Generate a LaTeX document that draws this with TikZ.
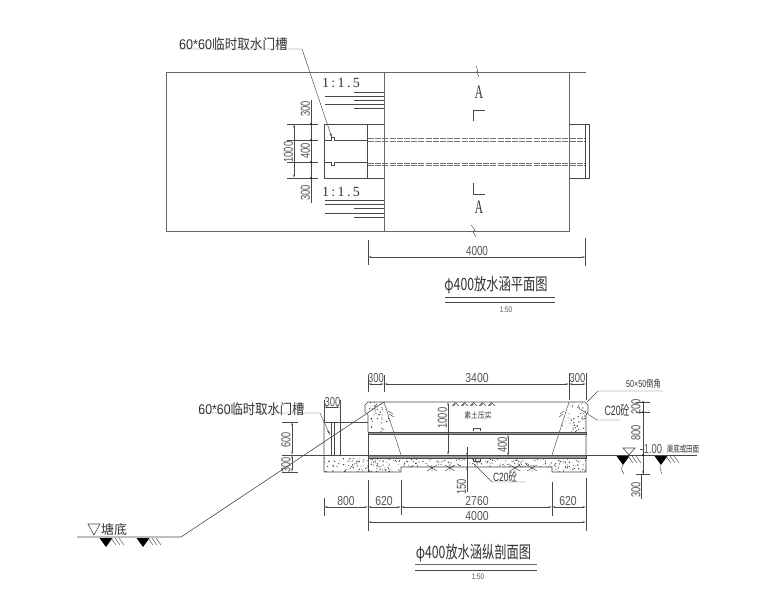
\documentclass[tikz,border=0pt]{standalone}
\usepackage{fontspec}
\usepackage{graphicx}
\setmainfont{Liberation Sans}
\newfontfamily\cjk{Noto Sans CJK SC}
\newfontfamily\serifnum{Liberation Serif}
\usetikzlibrary{arrows.meta,calc}
\definecolor{ink}{HTML}{484848}
\definecolor{dimtxt}{HTML}{555555}
\tikzset{
  ln/.style={draw=ink,line width=0.6pt},
  thin ln/.style={draw=ink,line width=0.45pt},
  heavy/.style={draw=black!60,line width=0.85pt},
  dashln/.style={draw=black!55,line width=0.55pt,dash pattern=on 6pt off 1.2pt},
  dimln/.style={draw=ink,line width=0.5pt,{Stealth[length=3.5pt,width=1.5pt]}-{Stealth[length=3.5pt,width=1.5pt]}},
  tag/.style={inner sep=0pt,outer sep=0pt,text=dimtxt,font=\fontsize{13}{13}\selectfont},
  lab/.style={inner sep=0pt,outer sep=0pt,text=black!80,font=\fontsize{11}{11}\selectfont},
  vtag/.style={tag,rotate=90},
  bandln/.style={draw=black!70,line width=0.6pt,fill=black!40},
  blk/.style={fill=black,draw=none},
}
\newcommand{\sx}[2]{\scalebox{#1}[1]{#2}}
\newcommand{\speck}[5]{% x y w h n
  \foreach \i in {1,...,#5}{
    \pgfmathsetmacro{\px}{#1+rnd*#3}
    \pgfmathsetmacro{\py}{#2+rnd*#4}
    \pgfmathsetmacro{\pr}{0.3+rnd*0.45}
    \fill[black!75] (\px,\py) circle[radius=\pr];
  }}
\newcommand{\hatchmark}[2]{% base x,y of black triangle with ground hatch
  \fill[blk] (#1-6.5,#2) -- (#1+6.5,#2) -- (#1,#2+9) -- cycle;
  \draw[thin ln] (#1+5,#2) -- (#1+10,#2+7) (#1+9,#2) -- (#1+14,#2+7) (#1+13,#2) -- (#1+18,#2+7);
}
\begin{document}
\begin{tikzpicture}[x=1pt,y=-1pt]
\useasboundingbox (0,0) rectangle (760,608);
\fill[white] (0,0) rectangle (760,608);
\pgfmathsetseed{4217}

%% ---------- PLAN ----------
\draw[heavy] (586,72) -- (166,72) -- (166,231) -- (569,231) -- (569,72);
\draw[heavy] (384,72) -- (384,231);
% slope hatching
\foreach \y/\x in {92/354,96/325,100/354,104/325,108/354,200/325,204/325,208/354,213/325,217/354}
  \draw[thin ln] (\x,\y) -- (384,\y);
% inlet
\draw[ln] (384,124) -- (324,124) -- (324,178) -- (384,178);
\draw[ln] (367.5,124) -- (367.5,178);
\draw[ln] (324,140) -- (331,140) -- (331,137) -- (334,137) -- (334,140) -- (367.5,140);
\draw[ln] (324,162) -- (331,162) -- (331,165) -- (334,165) -- (334,162) -- (367.5,162);
% pipe
\foreach \y in {138,141,163,165.5}
  \draw[dashln] (368,\y) -- (586,\y);
% outlet
\draw[ln] (569,124) -- (589,124) -- (589,178) -- (569,178);
\draw[ln] (585,124) -- (585,178);
% dims left
\foreach \y in {124,140,162,178} \draw[thin ln] (287,\y) -- (318,\y);
\draw[thin ln] (311,100) -- (311,203);
\foreach \y in {124,140,162,178} \fill[black] (311,\y) circle[radius=0.9];
\draw[dimln] (294,124) -- (294,178);
\node[vtag] (p300a) at (305.5,109) {\sx{.72}{300}};
\node[vtag] (p400) at (305.5,151) {\sx{.72}{400}};
\node[vtag] (p1000) at (288.5,152) {\sx{.72}{1000}};
\node[vtag] (p300b) at (305.5,193) {\sx{.72}{300}};
% slopes
\node[lab] (pslope1) at (341,83) {\serifnum\fontsize{14}{14}\selectfont 1\,:\,1\,.\,5};
\node[lab] (pslope2) at (341,192) {\serifnum\fontsize{14}{14}\selectfont 1\,:\,1\,.\,5};
% leader
\node[lab] (pgate) at (233.5,44.5) {\fontsize{14}{14}\selectfont\sx{.9}{60*60\cjk 临时取水门槽}};
\coordinate (pgA) at (179,49);
\coordinate (pgB) at (302,49);
\coordinate (pgC) at (332,138);
\draw[thin ln,-{Stealth[length=5pt,width=2pt]}] (pgA) -- (pgB) -- (pgC);
% section marks
\node[lab] (pA1) at (479,92) {\serifnum\fontsize{19}{19}\selectfont\sx{.6}{A}};
\node[lab] (pA2) at (479,207) {\serifnum\fontsize{19}{19}\selectfont\sx{.6}{A}};
\draw[ln] (473,121) -- (473,110) -- (485,110);
\draw[ln] (473,183) -- (473,194) -- (485,194);
\draw[thin ln] (476,66) -- (478,71) -- (476.5,72) -- (479,77);
\draw[thin ln] (471,225) -- (475,230) -- (473,232) -- (476,237);
% 4000
\draw[thin ln] (368,240) -- (368,265);
\draw[thin ln] (585.5,238) -- (585.5,266);
\draw[dimln] (368,257) -- (585.5,257);
\node[tag] (p4000) at (477,251.5) {\sx{.76}{4000}};
% title
\node[lab] (ptitle) at (496,285.5) {\fontsize{17}{17}\selectfont\sx{.72}{\cjk φ400放水涵平面图}};
\draw[ln] (445,297) -- (555,297);
\draw[thin ln] (445,302) -- (555,302);
\node[tag] (pscale) at (506,309.5) {\fontsize{8}{8}\selectfont\sx{.8}{1:50}};

%% ---------- SECTION ----------
% concrete blocks
\begin{scope}
\clip (365,405) -- (368,402) -- (384,402) -- (393,432) -- (368,432) -- (368,415) -- (365,412) -- cycle;
\speck{365}{402}{28}{30}{60}
\end{scope}
\begin{scope}
\clip (588,405) -- (585,402) -- (569,402) -- (560,432) -- (586,432) -- (586,415) -- (588,412) -- cycle;
\speck{560}{402}{28}{30}{60}
\end{scope}
\begin{scope}
\clip (324,458) -- (586,458) -- (586,472) -- (552,472) -- (552,467) -- (401,467) -- (401,472) -- (324,472) -- cycle;
\speck{324}{458}{262}{14}{420}
\end{scope}
% outlines
\draw[ln] (368,432) -- (368,415) -- (365,412) -- (365,405) -- (368,402) -- (585,402) -- (588,405) -- (588,412) -- (586,415) -- (586,472) -- (552,472) -- (552,467) -- (401,467) -- (401,472) -- (324,472) -- (324,422);
\draw[ln] (368,432) -- (368,472);
\draw[thin ln] (384,402) -- (401,455);
\draw[thin ln] (569,402) -- (552,455);
\draw[thin ln] (388,411) -- (393,414) (389,414) -- (394,417);
\draw[thin ln] (564,411) -- (560,414) (563,414) -- (559,417);
% bands
\draw[bandln] (368,432) rectangle (586,434.5);
\draw[bandln] (368,455.5) rectangle (586,458);
% main ground line
\draw[ln] (324,455.5) -- (697,455.5);
% gate
\draw[ln] (324,422) -- (368,422);
\draw[ln] (331,422) -- (331,456) (334,422) -- (334,456) (340,422) -- (340,456);
% slope
\coordinate (gndL) at (77,537);
\coordinate (gndK) at (181,537);
\coordinate (slopeT) at (384,402);
\draw[ln] (gndL) -- (gndK) -- (slopeT);
% soil marks
\foreach \x in {452,461,470,479,488}
  \draw[ln] (\x,406) -- (\x+3.5,402.5) -- (\x+7,406) (\x+1.5,406) -- (\x+3.5,404);
\node[lab] (ssoil) at (478,415) {\fontsize{8}{8}\selectfont\sx{.85}{\cjk 素土压实}};
% small pipe marks
\draw[thin ln] (473,431) -- (473,428) -- (480,428) -- (480,431);
\draw[thin ln] (473,459) -- (473,461) -- (480,461) -- (480,459);
\foreach \x in {432,450,515,532}{
  \draw[thin ln] (\x-5,465) -- (\x+5,471) (\x+5,465) -- (\x-5,471) (\x,467) -- (\x,472);
}
% top dims
\foreach \x/\a/\b in {368/375/392,384/375/392,569/373/400,586/373/400}
  \draw[thin ln] (\x,\a) -- (\x,\b);
\draw[dimln] (368,384) -- (384,384);
\draw[dimln] (384,384) -- (569,384);
\draw[dimln] (569,384) -- (586,384);
\node[tag] (s300a) at (376,378.5) {\sx{.72}{300}};
\node[tag] (s3400) at (477,378.5) {\sx{.8}{3400}};
\node[tag] (s300b) at (577.5,378) {\sx{.72}{300}};
% gate dim
\draw[thin ln] (324,400) -- (324,422) (340,400) -- (340,422);
\draw[dimln] (324,407) -- (340,407);
\node[tag] (s300c) at (332.5,402.5) {\sx{.72}{300}};
% inner vertical dims
\draw[dimln] (448,402) -- (448,455);
\node[vtag] (s1000) at (442.5,418) {\sx{.72}{1000}};
\draw[dimln] (508,434.5) -- (508,456);
\node[vtag] (s400) at (502.5,445) {\sx{.72}{400}};
\draw[thin ln] (467,447) -- (467,492);
\draw[-{Stealth[length=3.5pt,width=1.5pt]},thin ln] (467,447) -- (467,456);
\draw[-{Stealth[length=3.5pt,width=1.5pt]},thin ln] (467,480) -- (467,467);
\node[vtag] (s150) at (461.5,487) {\sx{.72}{150}};
% left dims
\foreach \y in {422,455,472} \draw[thin ln] (282,\y) -- (298,\y);
\draw[dimln] (292,422) -- (292,455);
\draw[dimln] (292,455) -- (292,472);
\node[vtag] (s600) at (286,440) {\sx{.7}{600}};
\node[vtag] (s300d) at (286,465) {\sx{.7}{300}};
\draw[thin ln] (298,455.5) -- (324,455.5);
% bottom dims
\draw[thin ln] (324,498) -- (324,516);
\draw[thin ln] (368,480) -- (368,531);
\draw[thin ln] (401,480) -- (401,515);
\draw[thin ln] (552,482) -- (552,516);
\draw[thin ln] (586,478) -- (586,531);
\draw[dimln] (324,507) -- (368,507);
\draw[dimln] (368,507) -- (401,507);
\draw[dimln] (401,507) -- (552,507);
\draw[dimln] (552,507) -- (586,507);
\draw[dimln] (368,522) -- (586,522);
\node[tag] (s800) at (346,501.5) {\sx{.8}{800}};
\node[tag] (s620a) at (384,501.5) {\sx{.8}{620}};
\node[tag] (s2760) at (477,501.5) {\sx{.8}{2760}};
\node[tag] (s620b) at (568,501.5) {\sx{.8}{620}};
\node[tag] (s4000) at (477,516.5) {\sx{.8}{4000}};
% section gate leader
\node[lab] (sgate) at (251.5,409) {\fontsize{14}{14}\selectfont\sx{.88}{60*60\cjk 临时取水门槽}};
\coordinate (sgA) at (198,413);
\coordinate (sgB) at (320,413);
\coordinate (sgC) at (330,435);
\draw[thin ln,-{Stealth[length=5pt,width=2pt]}] (sgA) -- (sgB) -- (sgC);
% C20 mid
\node[lab] (sc20a) at (505,477) {\fontsize{12}{12}\selectfont\sx{.7}{C20\cjk 砼}};
\coordinate (caA) at (475,465);
\coordinate (caB) at (492,482);
\coordinate (caC) at (526,482);
\draw[thin ln] (caA) -- (caB) -- (caC);
% chamfer note
\node[lab] (schamfer) at (643.5,384) {\fontsize{10}{10}\selectfont\sx{.72}{50×50\cjk 倒角}};
\coordinate (chA) at (663,391);
\coordinate (chB) at (598,391);
\coordinate (chC) at (587,402);
\draw[thin ln] (chA) -- (chB) -- (chC);
\node[lab] (sc20b) at (617,410) {\fontsize{13.5}{13.5}\selectfont\sx{.65}{C20\cjk 砼}};
\coordinate (cbA) at (620,420);
\coordinate (cbB) at (597,420);
\coordinate (cbC) at (577,407);
\draw[thin ln] (cbA) -- (cbB) -- (cbC);
% right vertical dims
\foreach \y in {402,412,474} \draw[thin ln] (636,\y) -- (650,\y);
\draw[thin ln] (643,402) -- (643,474);
\draw[thin ln] (641,474) -- (641,499);
\foreach \y in {402,412,455} \fill[black] (643,\y) circle[radius=0.9];
\draw[-{Stealth[length=3.5pt,width=1.5pt]},thin ln] (643,462) -- (643,474);
\node[vtag] (s200) at (636,407) {\sx{.72}{200}};
\node[vtag] (s800v) at (636,433) {\sx{.72}{800}};
\node[vtag] (s300e) at (636,490) {\sx{.72}{300}};
% elevation
\draw[ln] (623,448) -- (635,448) -- (629,455) -- cycle;
\node[tag] (selev) at (653,449) {\sx{.72}{1.00}};
\draw[thin ln] (640,449) -- (644,449);
\node[lab] (sground) at (683,449) {\fontsize{9}{9}\selectfont\sx{.72}{\cjk 渠底或田面}};
\hatchmark{623}{456}
\hatchmark{661}{456}
\draw[thin ln] (623,465) .. controls (621,469) .. (624,474);
\draw[thin ln] (660,465) .. controls (660,469) .. (662,474);
% pond bottom
\draw[ln] (88,524) -- (100,524) -- (94,535) -- cycle;
\node[lab] (spond) at (114,529.5) {\fontsize{13}{13}\selectfont\cjk 塘底};
\hatchmark{106}{538}
\hatchmark{143}{538}
% title
\node[lab] (stitle) at (473.5,553) {\fontsize{17}{17}\selectfont\sx{.72}{\cjk φ400放水涵纵剖面图}};
\draw[heavy] (415,564) -- (537,564);
\draw[thin ln] (415,570) -- (537,570);
\node[tag] (sscale) at (478,577) {\fontsize{8}{8}\selectfont\sx{.8}{1:50}};
\end{tikzpicture}
\end{document}
